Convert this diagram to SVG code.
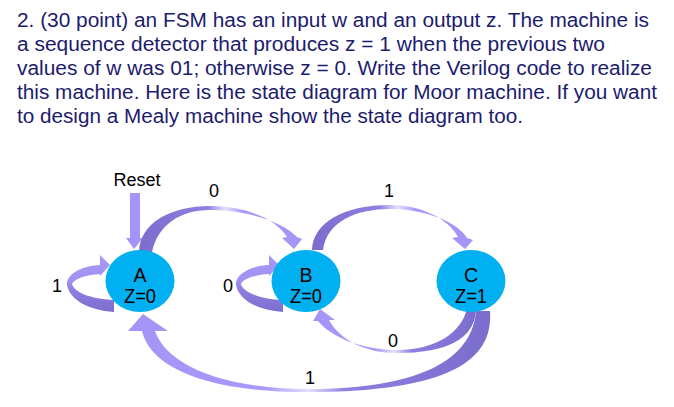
<svg xmlns="http://www.w3.org/2000/svg" width="674" height="407" viewBox="0 0 674 407">
<defs>
<style>
.q{font-family:"Liberation Sans",Arial,sans-serif;font-size:19.5px;fill:#1c1c6e}
.lb{font-family:"Liberation Sans",Arial,sans-serif;font-size:18px;fill:#000;text-anchor:middle}
.nl{font-family:"Liberation Sans",Arial,sans-serif;font-size:19.5px;fill:#000;text-anchor:middle}
.st{fill:#00b0f0}
.rs{fill:#a394f8}
</style>
<linearGradient id="gLR" x1="0" y1="0" x2="1" y2="0">
<stop offset="0" stop-color="#7b6dcc"/>
<stop offset="0.42" stop-color="#8d7fe0"/>
<stop offset="0.53" stop-color="#e4e0fe"/>
<stop offset="0.64" stop-color="#a999f8"/>
<stop offset="1" stop-color="#a394f7"/>
</linearGradient>
<linearGradient id="gRL" x1="1" y1="0" x2="0" y2="0">
<stop offset="0" stop-color="#7b6dcc"/>
<stop offset="0.40" stop-color="#8d7fe0"/>
<stop offset="0.50" stop-color="#e4e0fe"/>
<stop offset="0.62" stop-color="#a999f8"/>
<stop offset="1" stop-color="#a394f7"/>
</linearGradient>
<linearGradient id="gTB" x1="0" y1="0" x2="0" y2="1">
<stop offset="0" stop-color="#a898f8"/>
<stop offset="0.45" stop-color="#a091f2"/>
<stop offset="0.6" stop-color="#8e80e0"/>
<stop offset="1" stop-color="#7b6dcc"/>
</linearGradient>
</defs>
<rect width="674" height="407" fill="#fff"/>
<g id="question">
<text class="q" x="17" y="27" textLength="632" lengthAdjust="spacingAndGlyphs">2. (30 point) an FSM has an input w and an output z. The machine is</text>
<text class="q" x="17" y="51" textLength="588" lengthAdjust="spacingAndGlyphs">a sequence detector that produces z = 1 when the previous two</text>
<text class="q" x="17" y="75" textLength="635" lengthAdjust="spacingAndGlyphs">values of w was 01; otherwise z = 0. Write the Verilog code to realize</text>
<text class="q" x="17" y="99" textLength="640" lengthAdjust="spacingAndGlyphs">this machine. Here is the state diagram for Moor machine. If you want</text>
<text class="q" x="17" y="123" textLength="506" lengthAdjust="spacingAndGlyphs">to design a Mealy machine show the state diagram too.</text>
</g>
<g id="connectors">
<g id="reset-arrow">
<path class="rs" d="M130,193 L140,193 L140,238 L143,238 L134,249 L126,238 L130,238 Z"/>
<text class="lb" x="137" y="186">Reset</text>
</g>
<g id="A-B">
<path fill="url(#gLR)" d="M139,252 C140,222 172,206 210,206 C245,206 275,218 287,237 L282,238 L294,249 L302,239 L297,237 C282,222 248,210 210,210 C180,210 158,225 152,252 Z"/>
<text class="lb" x="214" y="197">0</text>
</g>
<g id="B-C">
<path fill="url(#gLR)" d="M312,250 C313,222 345,205 390,205 C420,205 448,218 458,237 L452,238 L465,249 L473,240 L467,238 C458,222 425,209 390,209 C355,209 327,222 323,250 Z"/>
<text class="lb" x="389" y="197">1</text>
</g>
<g id="A-A">
<path fill="url(#gTB)" d="M114,312 C88,310 70,300 67,285 C66,275 80,266 100,265 L100,255 L110,265 L100,276 L100,274 C85,275 74,279 72,284 C74,292 90,299 114,300 Z"/>
<text class="lb" x="57" y="292">1</text>
</g>
<g id="B-B">
<path fill="url(#gTB)" transform="translate(169,0)" d="M114,312 C88,310 70,300 67,285 C66,275 80,266 100,265 L100,255 L110,265 L100,276 L100,274 C85,275 74,279 72,284 C74,292 90,299 114,300 Z"/>
<text class="lb" x="228" y="292">0</text>
</g>
<g id="C-B">
<path fill="url(#gRL)" d="M467,308 L476,308 C476,340 445,353 397,353 C365,353 340,340 329,320 L335,320 L320,309 L313,321 L318,321 C330,336 360,350 397,350 C435,350 462,333 467,308 Z"/>
<text class="lb" x="393" y="347">0</text>
</g>
<g id="C-A">
<path fill="url(#gRL)" d="M476,311 L490,311 C493,355 460,392 307,392 C200,392 150,365 142,331 L128,331 L143,314 L168,331 L155,331 C165,360 210,388 307,389 C420,389 472,360 476,311 Z"/>
<text class="lb" x="310" y="384">1</text>
</g>
</g>
<g id="node-A">
<ellipse class="st" cx="140" cy="281" rx="34.5" ry="31"/>
<text class="nl" x="140" y="282">A</text>
<text class="nl" x="140" y="303" textLength="32" lengthAdjust="spacingAndGlyphs">Z=0</text>
</g>
<g id="node-B">
<ellipse class="st" cx="306" cy="281" rx="34.5" ry="31"/>
<text class="nl" x="306" y="282">B</text>
<text class="nl" x="306" y="303" textLength="32" lengthAdjust="spacingAndGlyphs">Z=0</text>
</g>
<g id="node-C">
<ellipse class="st" cx="471" cy="281" rx="34.5" ry="31"/>
<text class="nl" x="471" y="282">C</text>
<text class="nl" x="471" y="303" textLength="32" lengthAdjust="spacingAndGlyphs">Z=1</text>
</g>
</svg>
